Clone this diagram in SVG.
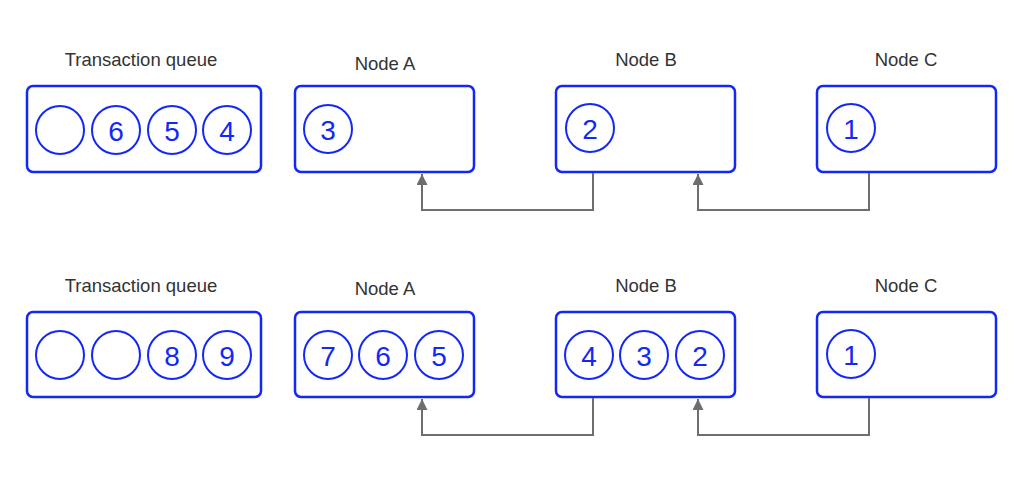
<svg xmlns="http://www.w3.org/2000/svg" width="1024" height="494" viewBox="0 0 1024 494">
<defs>
<style>
.box{fill:#fff;stroke:#1428f5;stroke-width:2.5}
.c{fill:#fff;stroke:#1428f5;stroke-width:2}
.d{font-family:"Liberation Sans",Arial,sans-serif;font-size:28px;fill:#1428f5;text-anchor:middle;dominant-baseline:central}
.lbl{font-family:"Liberation Sans",Arial,sans-serif;font-size:18.5px;fill:#333;text-anchor:middle}
.con{fill:none;stroke:#6e6e6e;stroke-width:2}
</style>
<marker id="ah" viewBox="0 0 10 10" refX="10" refY="5" markerWidth="11" markerHeight="11" markerUnits="userSpaceOnUse" orient="auto">
<path d="M0,0 L10,5 L0,10 Z" fill="#6e6e6e"/>
</marker>
</defs>
<rect width="1024" height="494" fill="#fff"/>

<g id="queue1">
<text class="lbl" x="141" y="66">Transaction queue</text>
<rect class="box" x="27" y="86" width="234" height="86" rx="6"/>
<circle class="c" cx="60" cy="130" r="24"/>
<circle class="c" cx="116" cy="130" r="24"/><text class="d" x="116" y="131">6</text>
<circle class="c" cx="172" cy="130" r="24"/><text class="d" x="172" y="131">5</text>
<circle class="c" cx="227" cy="130" r="24"/><text class="d" x="227" y="131">4</text>
</g>
<g id="nodeA1">
<text class="lbl" x="385" y="70">Node A</text>
<rect class="box" x="295" y="86" width="179" height="86" rx="6"/>
<circle class="c" cx="328" cy="129" r="24"/><text class="d" x="328" y="130">3</text>
</g>
<g id="nodeB1">
<text class="lbl" x="646" y="66">Node B</text>
<rect class="box" x="556" y="86" width="179" height="86" rx="6"/>
<circle class="c" cx="590" cy="128" r="24"/><text class="d" x="590" y="129">2</text>
</g>
<g id="nodeC1">
<text class="lbl" x="906" y="66">Node C</text>
<rect class="box" x="817" y="86" width="179" height="86" rx="6"/>
<circle class="c" cx="851" cy="128" r="24"/><text class="d" x="851" y="129">1</text>
</g>

<g id="queue2">
<text class="lbl" x="141" y="292">Transaction queue</text>
<rect class="box" x="27" y="312" width="234" height="85" rx="6"/>
<circle class="c" cx="60" cy="355" r="24"/>
<circle class="c" cx="116" cy="355" r="24"/>
<circle class="c" cx="172" cy="355" r="24"/><text class="d" x="172" y="356">8</text>
<circle class="c" cx="227" cy="355" r="24"/><text class="d" x="227" y="356">9</text>
</g>
<g id="nodeA2">
<text class="lbl" x="385" y="295">Node A</text>
<rect class="box" x="295" y="312" width="179" height="85" rx="6"/>
<circle class="c" cx="328" cy="355" r="24"/><text class="d" x="328" y="356">7</text>
<circle class="c" cx="383" cy="355" r="24"/><text class="d" x="383" y="356">6</text>
<circle class="c" cx="439" cy="355" r="24"/><text class="d" x="439" y="356">5</text>
</g>
<g id="nodeB2">
<text class="lbl" x="646" y="292">Node B</text>
<rect class="box" x="556" y="312" width="179" height="85" rx="6"/>
<circle class="c" cx="589" cy="355" r="24"/><text class="d" x="589" y="356">4</text>
<circle class="c" cx="644" cy="355" r="24"/><text class="d" x="644" y="356">3</text>
<circle class="c" cx="700" cy="355" r="24"/><text class="d" x="700" y="356">2</text>
</g>
<g id="nodeC2">
<text class="lbl" x="906" y="292">Node C</text>
<rect class="box" x="817" y="312" width="179" height="85" rx="6"/>
<circle class="c" cx="851" cy="354" r="24"/><text class="d" x="851" y="355">1</text>
</g>

<g id="connectors">
<path class="con" d="M593,173 V210 H422 V174" marker-end="url(#ah)"/>
<path class="con" d="M869,173 V210 H698 V174" marker-end="url(#ah)"/>
<path class="con" d="M593,398 V435 H422 V399" marker-end="url(#ah)"/>
<path class="con" d="M869,398 V435 H698 V399" marker-end="url(#ah)"/>
</g>
</svg>
